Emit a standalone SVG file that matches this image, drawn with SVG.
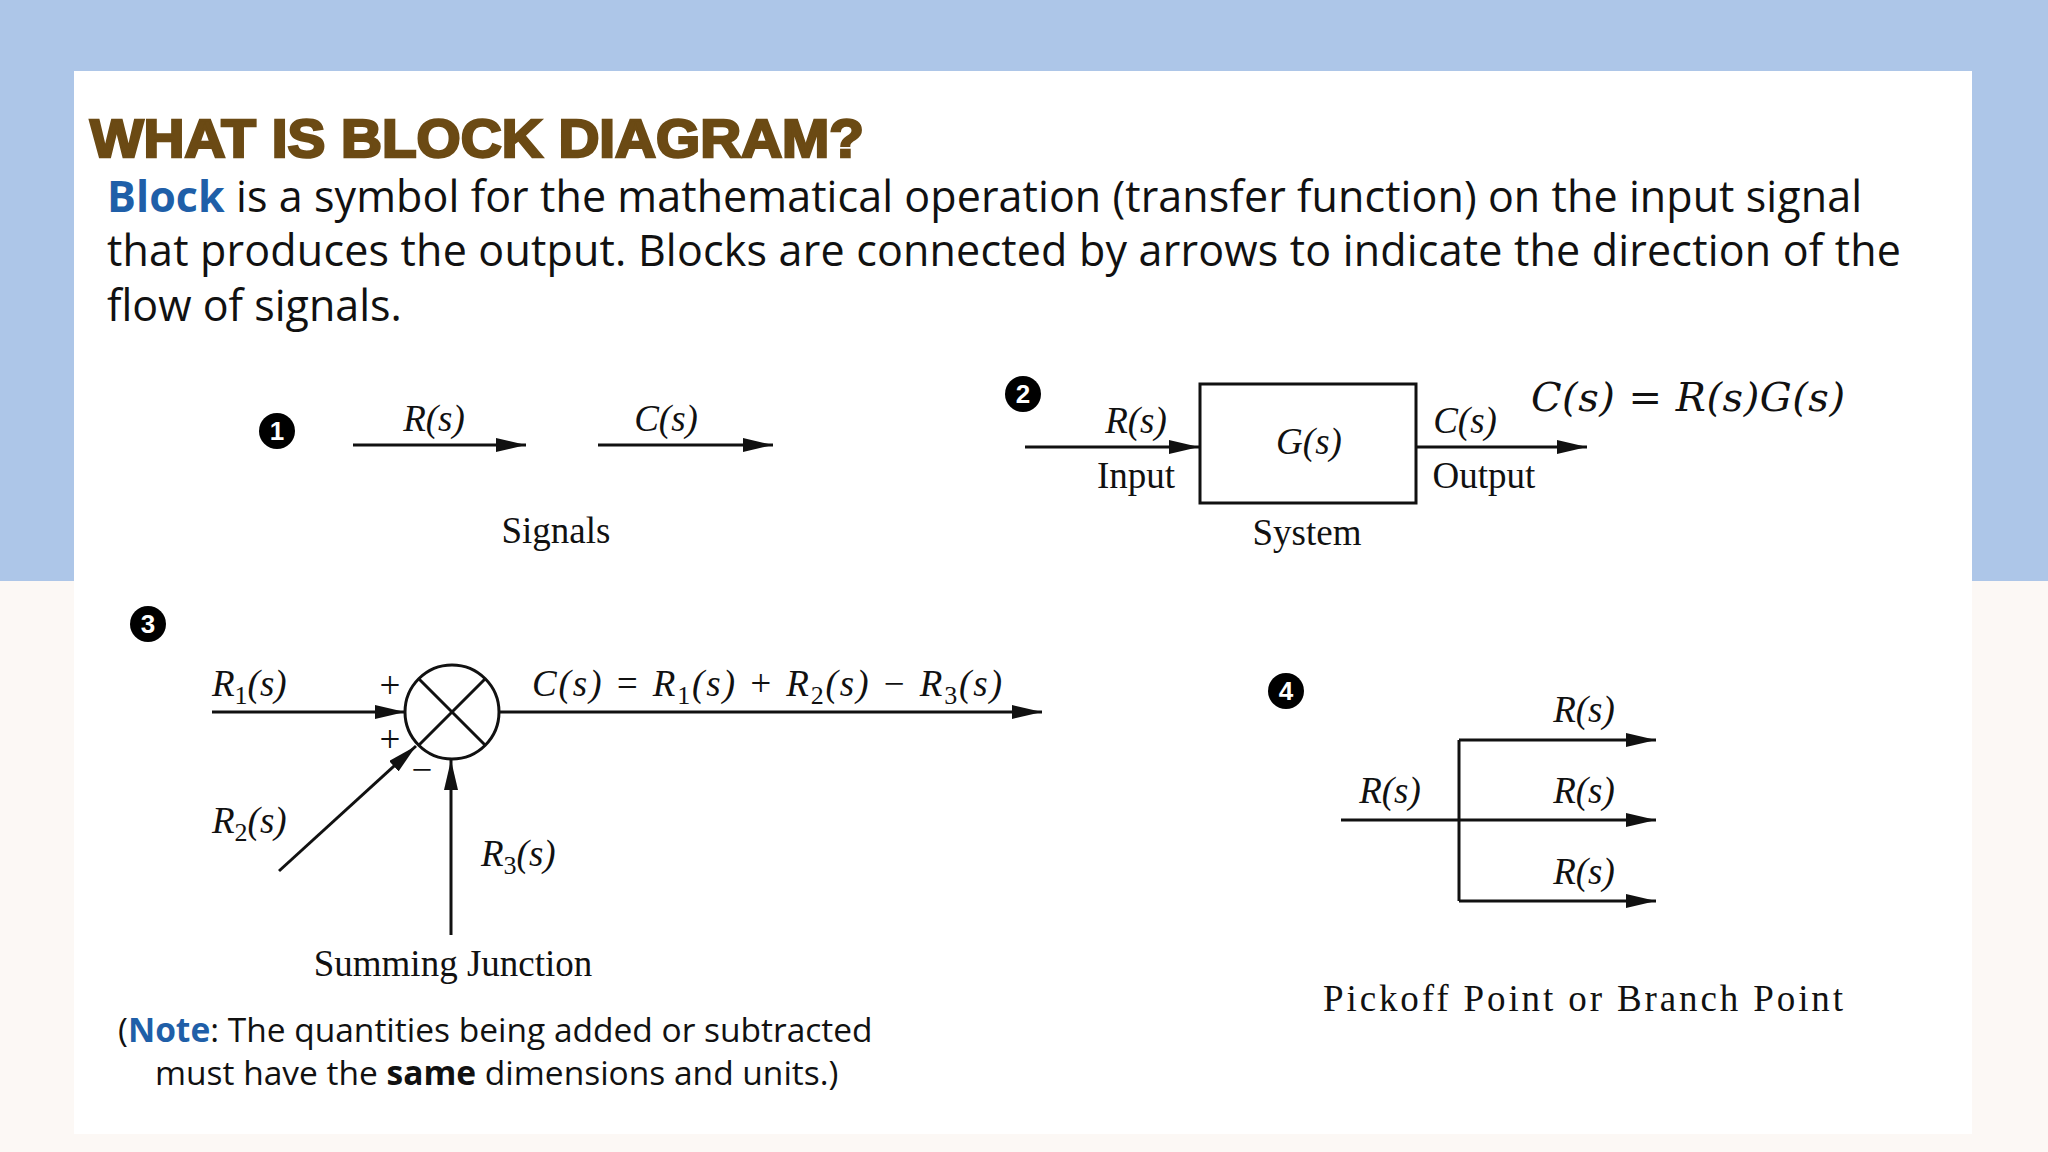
<svg xmlns="http://www.w3.org/2000/svg" width="2048" height="1152" viewBox="0 0 2048 1152">
<style>
.t{font-family:"Liberation Serif",serif;font-size:37px;fill:#111}
.i{font-style:italic}
.p{font-family:"Open Sans","Noto Sans",sans-serif;font-size:43px;fill:#111}
.n{font-family:"Open Sans","Noto Sans",sans-serif;font-size:33.5px;fill:#111}
.ln{stroke:#111;stroke-width:3;fill:none}
.num{fill:#000}
.numt{font-family:"Liberation Sans",sans-serif;font-weight:bold;font-size:26px;fill:#fff;text-anchor:middle}
</style>
<defs>
<marker id="a" viewBox="0 0 30 14" refX="30" refY="7" markerWidth="30" markerHeight="14" markerUnits="userSpaceOnUse" orient="auto"><path d="M0,0 L30,7 L0,14 Z" fill="#111"/></marker>
</defs>
<rect width="2048" height="1152" fill="#fcf8f5"/>
<rect width="2048" height="581" fill="#adc6e8"/>
<rect x="74" y="71" width="1898" height="1063" fill="#ffffff"/>
<text x="90" y="157" font-family="Liberation Sans,sans-serif" font-weight="900" font-size="54" fill="#6b4a14" stroke="#6b4a14" stroke-width="2.5" textLength="774" lengthAdjust="spacingAndGlyphs">WHAT IS BLOCK DIAGRAM?</text>
<text class="p" x="107" y="212" textLength="1755">
<tspan fill="#1f5fa8" font-weight="bold">Block</tspan> is a symbol for the mathematical operation (transfer function) on the input signal</text>
<text class="p" x="107" y="266" textLength="1794">that produces the output. Blocks are connected by arrows to indicate the direction of the</text>
<text class="p" x="107" y="321">flow of signals.</text>
<g id="connectors">
<line class="ln" x1="353" y1="445" x2="526" y2="445" marker-end="url(#a)"/>
<line class="ln" x1="598" y1="445" x2="773" y2="445" marker-end="url(#a)"/>
<line class="ln" x1="1025" y1="447" x2="1199" y2="447" marker-end="url(#a)"/>
<line class="ln" x1="1416" y1="447" x2="1587" y2="447" marker-end="url(#a)"/>
<line class="ln" x1="212" y1="712" x2="405" y2="712" marker-end="url(#a)"/>
<line class="ln" x1="500" y1="712" x2="1042" y2="712" marker-end="url(#a)"/>
<line class="ln" x1="279" y1="871" x2="416" y2="746" marker-end="url(#a)"/>
<line class="ln" x1="451" y1="935" x2="451" y2="760" marker-end="url(#a)"/>
<line class="ln" x1="1341" y1="820" x2="1459" y2="820"/>
<line class="ln" x1="1459" y1="740" x2="1459" y2="901"/>
<line class="ln" x1="1459" y1="740" x2="1656" y2="740" marker-end="url(#a)"/>
<line class="ln" x1="1459" y1="820" x2="1656" y2="820" marker-end="url(#a)"/>
<line class="ln" x1="1459" y1="901" x2="1656" y2="901" marker-end="url(#a)"/>
</g>
<g id="signals">
<circle class="num" cx="277" cy="431" r="18"/><text class="numt" x="277" y="440">1</text>
<text class="t i" x="434" y="431" text-anchor="middle">R(s)</text>
<text class="t i" x="666" y="431" text-anchor="middle">C(s)</text>
<text class="t" x="556" y="543" text-anchor="middle">Signals</text>
</g>
<g id="system">
<circle class="num" cx="1023" cy="394" r="18"/><text class="numt" x="1023" y="403">2</text>
<rect x="1200" y="384" width="216" height="119" fill="#fff" stroke="#111" stroke-width="3"/>
<text class="t i" x="1309" y="454" text-anchor="middle">G(s)</text>
<text class="t i" x="1136" y="433" text-anchor="middle">R(s)</text>
<text class="t" x="1136" y="488" text-anchor="middle">Input</text>
<text class="t i" x="1465" y="433" text-anchor="middle">C(s)</text>
<text class="t" x="1484" y="488" text-anchor="middle">Output</text>
<text class="t" x="1307" y="545" text-anchor="middle">System</text>
<text x="1531" y="411" font-family="DejaVu Serif,serif" font-style="italic" font-size="40" fill="#111" textLength="314">C(s) = R(s)G(s)</text>
</g>
<g id="summing">
<circle class="num" cx="148" cy="624" r="18"/><text class="numt" x="148" y="633">3</text>
<circle cx="452" cy="712" r="47" fill="#fff" stroke="#111" stroke-width="3"/>
<line class="ln" x1="419" y1="679" x2="485" y2="745"/>
<line class="ln" x1="485" y1="679" x2="419" y2="745"/>
<text class="t i" x="212" y="696" font-size="40">R<tspan font-style="normal" font-size="26" dy="8">1</tspan><tspan dy="-8">(s)</tspan></text>
<text class="t" x="390" y="698" text-anchor="middle" font-size="40">+</text>
<text class="t" x="390" y="752" text-anchor="middle" font-size="40">+</text>
<text class="t" x="422" y="782" text-anchor="middle" font-size="40">−</text>
<text class="t i" x="532" y="696" font-size="40" textLength="470">C(s) = R<tspan font-style="normal" font-size="26" dy="8">1</tspan><tspan dy="-8">(s) + R</tspan><tspan font-style="normal" font-size="26" dy="8">2</tspan><tspan dy="-8">(s) − R</tspan><tspan font-style="normal" font-size="26" dy="8">3</tspan><tspan dy="-8">(s)</tspan></text>
<text class="t i" x="212" y="833" font-size="40">R<tspan font-style="normal" font-size="26" dy="8">2</tspan><tspan dy="-8">(s)</tspan></text>
<text class="t i" x="481" y="866" font-size="40">R<tspan font-style="normal" font-size="26" dy="8">3</tspan><tspan dy="-8">(s)</tspan></text>
<text class="t" x="453" y="976" text-anchor="middle" font-size="42">Summing Junction</text>
<text class="n" x="118" y="1042">(<tspan fill="#1f5fa8" font-weight="bold">Note</tspan>: The quantities being added or subtracted</text>
<text class="n" x="155" y="1085">must have the <tspan font-weight="bold">same</tspan> dimensions and units.)</text>
</g>
<g id="pickoff">
<circle class="num" cx="1286" cy="691" r="18"/><text class="numt" x="1286" y="700">4</text>
<text class="t i" x="1390" y="803" text-anchor="middle" font-size="40">R(s)</text>
<text class="t i" x="1584" y="722" text-anchor="middle" font-size="40">R(s)</text>
<text class="t i" x="1584" y="803" text-anchor="middle" font-size="40">R(s)</text>
<text class="t i" x="1584" y="884" text-anchor="middle" font-size="40">R(s)</text>
<text class="t" x="1583" y="1011" text-anchor="middle" font-size="44" textLength="520">Pickoff Point or Branch Point</text>
</g>
</svg>
